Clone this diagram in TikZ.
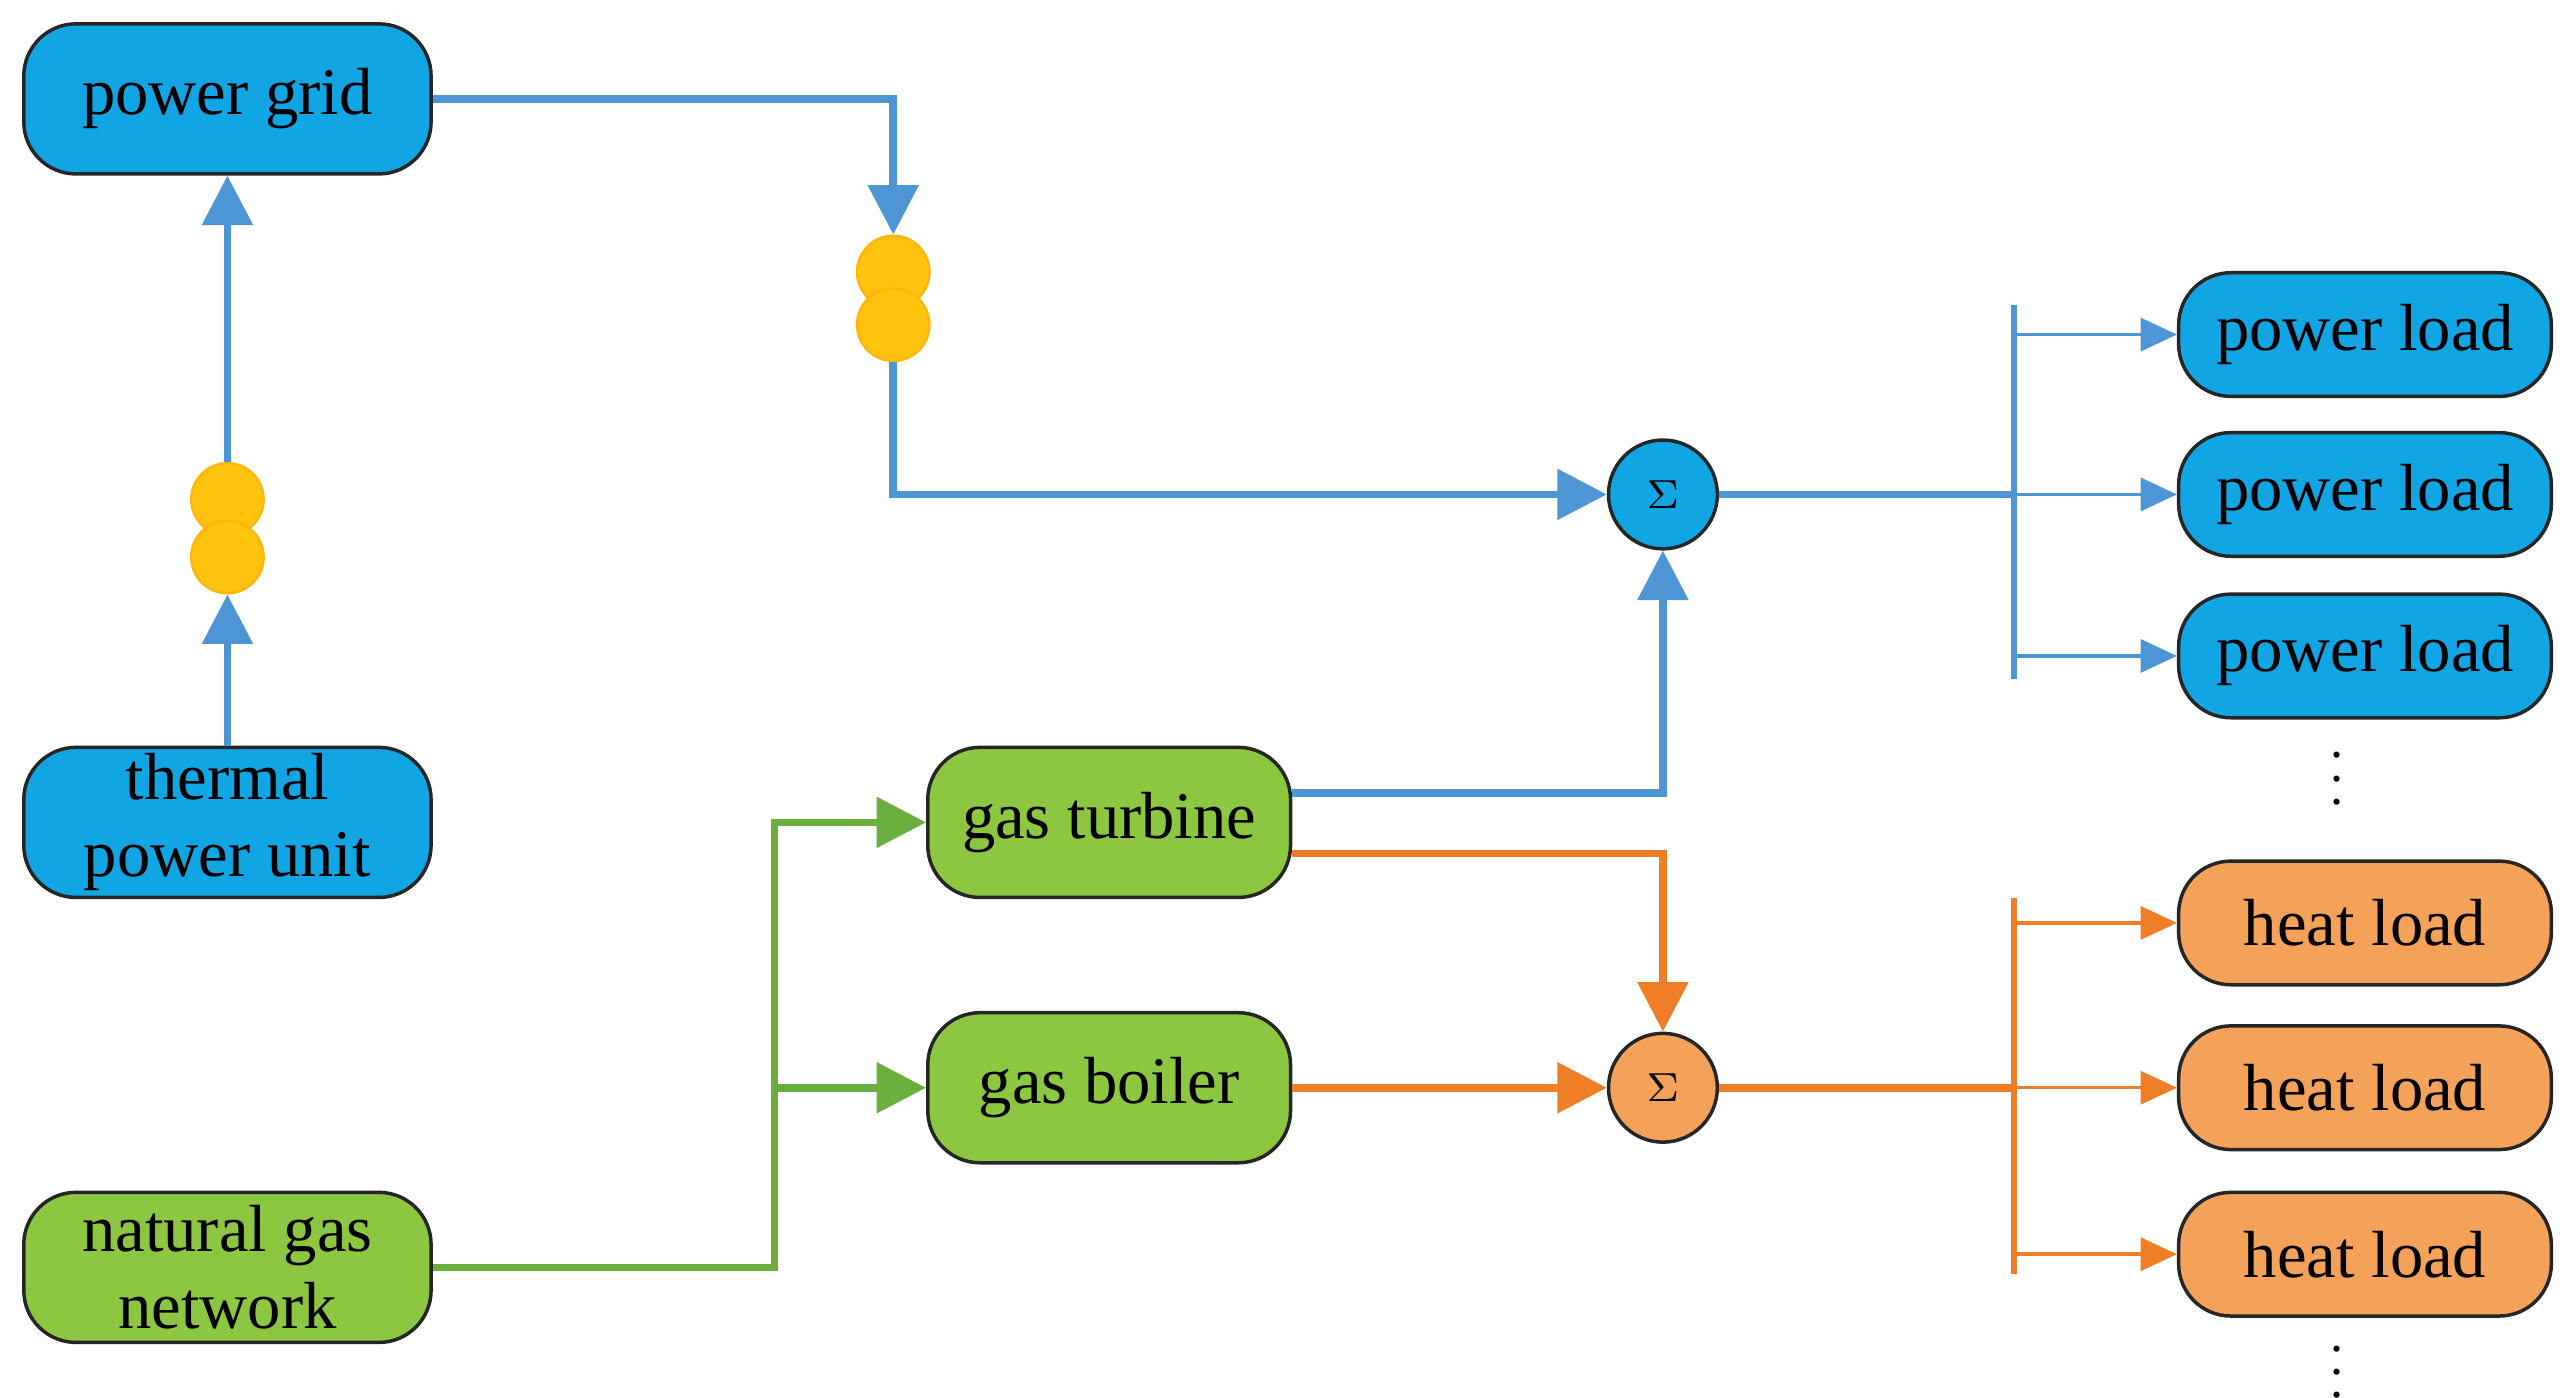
\documentclass[tikz,border=0pt]{standalone}
\usepackage{fontspec}
\setmainfont{Liberation Serif}
\usetikzlibrary{arrows.meta}
\definecolor{bfill}{HTML}{12A5E3}
\definecolor{bline}{HTML}{4D95D5}
\definecolor{ofill}{HTML}{F4A15A}
\definecolor{oline}{HTML}{F07E26}
\definecolor{gfill}{HTML}{8DC641}
\definecolor{gline}{HTML}{6AAF3D}
\definecolor{yel}{HTML}{FFC20E}
\tikzset{
 box/.style={draw=black!85,line width=0.6pt,rounded corners=9pt,minimum width=2.47cm,minimum height=0.91cm,align=center,font=\fontsize{11.5}{13.3}\selectfont,inner sep=1pt},
 load/.style={box,minimum width=2.26cm,minimum height=0.75cm},
 sig/.style={circle,draw=black!85,line width=0.6pt,minimum size=0.66cm,inner sep=0pt,font=\scriptsize},
 tr/.style={circle,fill=yel,draw=yel!80!orange,minimum size=0.44cm,inner sep=0pt},
 big/.style={line width=1.3pt,-{Triangle[length=0.3cm,width=0.3cm]}},
 thin/.style={line width=0.6pt,-{Triangle[length=0.22cm,width=0.2cm]}},
 ln/.style={line width=1.3pt},
 dots/.style={inner sep=0pt,font=\small}
}
\begin{document}
\begin{tikzpicture}[x=0.01cm,y=-0.01cm]
\useasboundingbox (0,0) rectangle (1560,848);
\node[box,fill=bfill] (pg) at (138,60) {power grid};
\node[box,fill=bfill] (th) at (138,499) {thermal\\power unit};
\node[box,fill=gfill] (ng) at (138,769) {natural gas\\network};
\node[box,fill=gfill,minimum width=2.2cm] (gt) at (673,499) {gas turbine};
\node[box,fill=gfill,minimum width=2.2cm] (gb) at (673,660) {gas boiler};
\node[sig,fill=bfill] (s1) at (1009,300) {$\Sigma$};
\node[sig,fill=ofill] (s2) at (1009,660) {$\Sigma$};
\node[tr] (t1a) at (138,303) {};
\node[tr] (t1b) at (138,338) {};
\node[tr] (t2a) at (542,165) {};
\node[tr] (t2b) at (542,197) {};
\foreach \i/\y in {1/203,2/300,3/398}{\node[load,fill=bfill] (p\i) at (1435,\y) {power load};}
\foreach \i/\y in {1/560,2/660,3/761}{\node[load,fill=ofill] (h\i) at (1435,\y) {heat load};}
\node[dots] (d1) at (1418,462) {$\vdots$};
\node[dots] (d2) at (1418,822) {$\vdots$};
\coordinate (bb1) at (1222,185); \coordinate (bb2) at (1222,412);
\coordinate (ob1) at (1222,545); \coordinate (ob2) at (1222,773);
\draw[bline,line width=1pt] (bb1) -- (bb2);
\draw[oline,line width=1pt] (ob1) -- (ob2);
% blue
\draw[bline,big] (th) -- (t1b);
\draw[bline,big] (t1a) -- (pg);
\draw[bline,big] (pg.east) -| (t2a);
\draw[bline,big] (t2b) |- (s1);
\draw[bline,big] (gt.east |- 0,481) -| (s1);
\draw[bline,ln] (s1) -- (1222,300);
\foreach \i in {1,2,3}{\draw[bline,thin] (1222,0 |- p\i) -- (p\i);}
% orange
\draw[oline,big] (gt.east |- 0,518) -| (s2);
\draw[oline,big] (gb) -- (s2);
\draw[oline,ln] (s2) -- (1222,660);
\foreach \i in {1,2,3}{\draw[oline,thin] (1222,0 |- h\i) -- (h\i);}
% green
\coordinate (gj) at (470,660);
\draw[gline,ln] (ng.east) -| (gj);
\draw[gline,big] (gj) |- (gt);
\draw[gline,big] (gj) -- (gb);
\end{tikzpicture}
\end{document}
